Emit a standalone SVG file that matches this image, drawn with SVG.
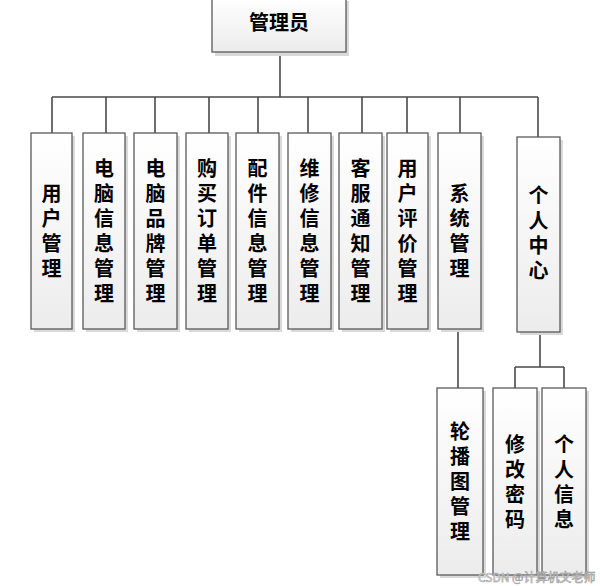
<svg xmlns="http://www.w3.org/2000/svg" width="600" height="586" viewBox="0 0 600 586">
<defs>
<linearGradient id="g" x1="0" y1="0" x2="0" y2="1">
<stop offset="0" stop-color="#ffffff"/>
<stop offset="1" stop-color="#ececec"/>
</linearGradient>
</defs>
<style>
.box{fill:url(#g);stroke:#5a5a5a;stroke-width:1.3}
.sh{fill:#d9d9d9}
.t{font-family:"Noto Sans CJK SC","Noto Sans",sans-serif;font-size:20px;font-weight:bold;fill:#000;text-anchor:middle}
.v{writing-mode:vertical-rl;letter-spacing:5px}
.c{fill:none;stroke:#4a4a4a;stroke-width:1.6}
.wm{font-family:"Noto Sans CJK SC","Liberation Sans",sans-serif;font-size:12px;fill:#ffffff;stroke:#9a9a9a;stroke-width:0.6}
</style>
<rect width="600" height="586" fill="#ffffff"/>
<g id="connectors">
<path class="c" d="M280 52V97M52 97H538M52 97V133M106 97V133M155 97V133M209 97V133M258 97V133M308 97V133M362 97V133M407 97V133M460 97V133M538 97V137"/>
<path class="c" d="M458 329V388M540 332V367M515 367H564M515 367V388M564 367V388"/>
</g>
<g id="admin"><rect class="sh" x="215" y="1" width="134" height="55"/><rect class="box" x="212" y="-2" width="134" height="54"/><text class="t" x="279" y="30">管理员</text></g>
<g id="n1"><rect class="sh" x="34" y="136" width="41" height="196"/><rect class="box" x="31" y="133" width="41" height="196"/><text class="t v" x="51.5" y="233.5">用户管理</text></g>
<g id="n2"><rect class="sh" x="86" y="136" width="42" height="196"/><rect class="box" x="83" y="133" width="42" height="196"/><text class="t v" x="104" y="233.5">电脑信息管理</text></g>
<g id="n3"><rect class="sh" x="137" y="136" width="43" height="196"/><rect class="box" x="134" y="133" width="43" height="196"/><text class="t v" x="155.5" y="233.5">电脑品牌管理</text></g>
<g id="n4"><rect class="sh" x="189" y="136" width="42" height="196"/><rect class="box" x="186" y="133" width="42" height="196"/><text class="t v" x="207" y="233.5">购买订单管理</text></g>
<g id="n5"><rect class="sh" x="239" y="136" width="43" height="196"/><rect class="box" x="236" y="133" width="43" height="196"/><text class="t v" x="257.5" y="233.5">配件信息管理</text></g>
<g id="n6"><rect class="sh" x="291" y="136" width="43" height="196"/><rect class="box" x="288" y="133" width="43" height="196"/><text class="t v" x="309.5" y="233.5">维修信息管理</text></g>
<g id="n7"><rect class="sh" x="342" y="136" width="43" height="196"/><rect class="box" x="339" y="133" width="43" height="196"/><text class="t v" x="360.5" y="233.5">客服通知管理</text></g>
<g id="n8"><rect class="sh" x="390" y="136" width="41" height="196"/><rect class="box" x="387" y="133" width="41" height="196"/><text class="t v" x="407.5" y="233.5">用户评价管理</text></g>
<g id="n9"><rect class="sh" x="441" y="136" width="43" height="196"/><rect class="box" x="438" y="133" width="43" height="196"/><text class="t v" x="459.5" y="233.5">系统管理</text></g>
<g id="n10"><rect class="sh" x="520" y="140" width="43" height="195"/><rect class="box" x="517" y="137" width="43" height="195"/><text class="t v" x="538.5" y="235">个人中心</text></g>
<g id="n11"><rect class="sh" x="440" y="391" width="46" height="187"/><rect class="box" x="437" y="388" width="46" height="187"/><text class="t v" x="460" y="484">轮播图管理</text></g>
<g id="n12"><rect class="sh" x="496" y="391" width="44" height="187"/><rect class="box" x="493" y="388" width="44" height="187"/><text class="t v" x="515" y="484">修改密码</text></g>
<g id="n13"><rect class="sh" x="545" y="391" width="44" height="187"/><rect class="box" x="542" y="388" width="44" height="187"/><text class="t v" x="564" y="484">个人信息</text></g>
<text class="wm" x="478" y="582">CSDN @计算机文老师</text>
</svg>
